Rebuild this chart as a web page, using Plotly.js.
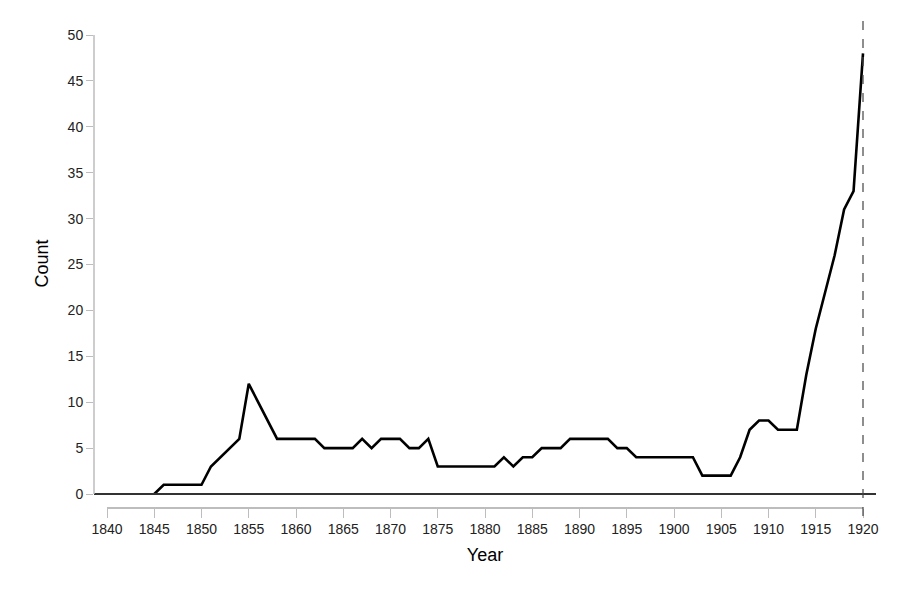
<!DOCTYPE html>
<html>
<head>
<meta charset="utf-8">
<script src="https://cdn.plot.ly/plotly-3.0.1.min.js"></script>
<style>html,body{margin:0;padding:0;background:#fff;}#chart{width:900px;height:600px;}</style>
</head>
<body>
<div id="chart"></div>
<script>
// ---- data ----
const years = [1845,1846,1847,1848,1849,1850,1851,1852,1853,1854,1855,1856,1857,1858,1859,1860,
  1861,1862,1863,1864,1865,1866,1867,1868,1869,1870,1871,1872,1873,1874,1875,1876,1877,1878,1879,1880,
  1881,1882,1883,1884,1885,1886,1887,1888,1889,1890,1891,1892,1893,1894,1895,1896,1897,1898,1899,1900,
  1901,1902,1903,1904,1905,1906,1907,1908,1909,1910,1911,1912,1913,1914,1915,1916,1917,1918,1919,1920];
const counts = [0,1,1,1,1,1,3,4,5,6,12,10,8,6,6,6,
  6,6,5,5,5,5,6,5,6,6,6,5,5,6,3,3,3,3,3,3,
  3,4,3,4,4,5,5,5,6,6,6,6,6,5,5,4,4,4,4,4,
  4,4,2,2,2,2,4,7,8,8,7,7,7,13,18,22,26,31,33,48];
const xTickVals = [1840,1845,1850,1855,1860,1865,1870,1875,1880,1885,1890,1895,1900,1905,1910,1915,1920];
const yTickVals = [0,5,10,15,20,25,30,35,40,45,50];
const cutoffYear = 1920;
const xLabel = 'Year';
const yLabel = 'Count';

// ---- layout geometry (pixels in a 900x600 page) ----
const W = 900, H = 600;
const pxPerYear = (863 - 107) / 80;
const pxPerUnit = (494 - 35) / 50;
const xr = [1840 - (107 - 94) / pxPerYear, 1920 + (876 - 863) / pxPerYear];
const yr = [0 - (507 - 494) / pxPerUnit, 50 + (35 - 20) / pxPerUnit];
const fx = p => p / W;
const fy = p => 1 - p / H;
const font = '"Liberation Sans", Arial, sans-serif';

const traces = [
  {x: years, y: counts, type: 'scatter', mode: 'lines',
   line: {color: '#000', width: 2.6}, hoverinfo: 'x+y', showlegend: false},
  {x: [xTickVals[0], xTickVals[xTickVals.length-1]], y: [null, null], xaxis: 'x2', yaxis: 'y',
   type: 'scatter', mode: 'lines', hoverinfo: 'skip', showlegend: false}
];

const layout = {
  width: W, height: H,
  margin: {l: 0, r: 0, t: 0, b: 0},
  paper_bgcolor: '#fff', plot_bgcolor: 'rgba(0,0,0,0)',
  font: {family: font, color: '#222', size: 14},
  xaxis: {domain: [fx(94), fx(876)], range: xr, showline: false, showgrid: false,
          zeroline: false, ticks: '', showticklabels: false, fixedrange: true},
  xaxis2: {domain: [fx(107), fx(863)], range: [1840, 1920], anchor: 'free', position: fy(507),
           showline: true, linecolor: '#bdbdbd', linewidth: 1.5, showgrid: false, zeroline: false,
           ticks: 'outside', ticklen: 9, tickcolor: '#bdbdbd', tickwidth: 1,
           tickmode: 'array', tickvals: xTickVals, ticktext: xTickVals.map(String),
           tickfont: {size: 14, color: '#222'},
           title: {text: xLabel, font: {size: 18, color: '#000'}, standoff: 12}},
  yaxis: {domain: [fy(507), fy(20)], range: yr, showline: false, showgrid: false,
          zeroline: true, zerolinecolor: '#333', zerolinewidth: 1.2,
          ticks: 'outside', ticklen: 7, tickcolor: '#bdbdbd', tickwidth: 1,
          tickmode: 'array', tickvals: yTickVals, ticktext: yTickVals.map(String),
          tickfont: {size: 14, color: '#222'},
          title: {text: yLabel, font: {size: 18, color: '#000'}, standoff: 14}},
  shapes: [
    {type: 'line', xref: 'paper', yref: 'y', x0: fx(94), x1: fx(94), y0: 0, y1: 50,
     line: {color: '#bdbdbd', width: 1.5}},
    {type: 'line', xref: 'x', yref: 'paper', x0: cutoffYear, x1: cutoffYear, y0: fy(516), y1: fy(18),
     line: {color: '#444', width: 1.2, dash: 'dash'}}
  ]
};

Plotly.newPlot('chart', traces, layout, {displayModeBar: false, staticPlot: true});
</script>
</body>
</html>
